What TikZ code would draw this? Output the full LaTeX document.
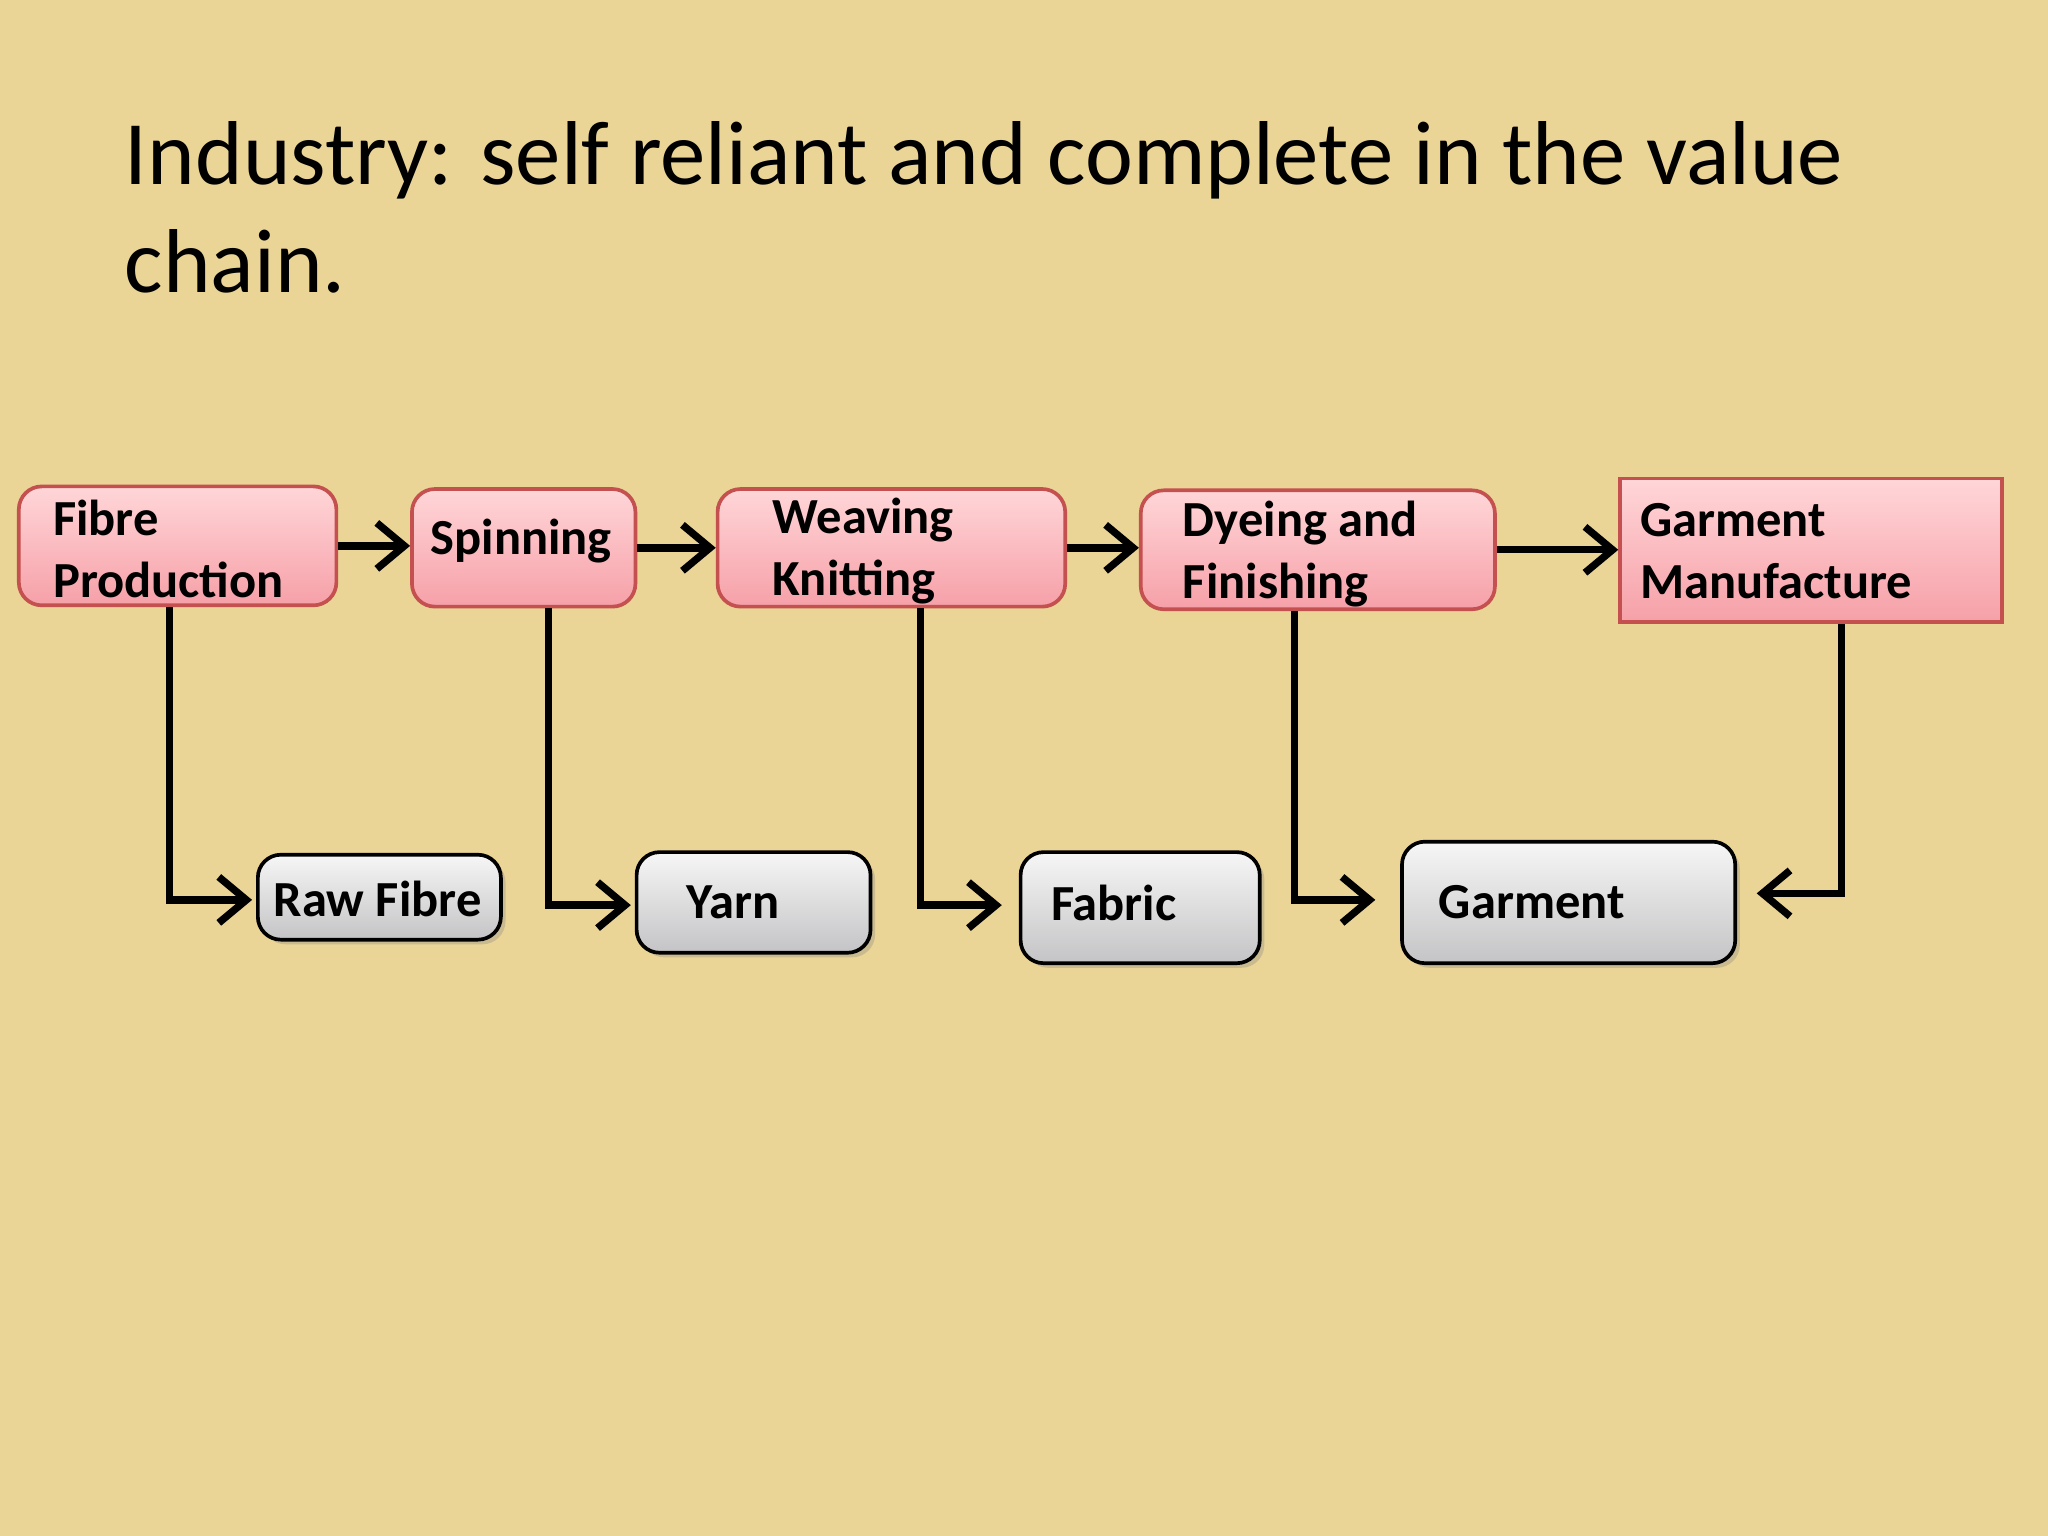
\documentclass[tikz,border=0pt]{standalone}
\usepackage{fontspec}
\setmainfont{Carlito}
\usetikzlibrary{arrows.meta,shadows}
\definecolor{bg}{RGB}{234,212,150}
\definecolor{pinkT}{RGB}{255,214,216}
\definecolor{pinkB}{RGB}{246,160,168}
\definecolor{pinkD}{RGB}{196,80,80}
\definecolor{grayT}{RGB}{246,246,246}
\definecolor{grayB}{RGB}{196,196,198}
\tikzset{
 pbox/.style={draw=pinkD,line width=0.8pt,rounded corners=5pt,top color=pinkT,bottom color=pinkB,anchor=north west,inner sep=0pt},
 gbox/.style={draw=black,line width=0.8pt,rounded corners=5pt,top color=grayT,bottom color=grayB,anchor=north west,inner sep=0pt,drop shadow={opacity=0.3,shadow xshift=1pt,shadow yshift=-1pt}},
 lbl/.style={font=\fontsize{11}{13.5}\selectfont\bfseries,align=left,anchor=west,inner sep=0pt},
 flow/.style={line width=1.6pt,-{Straight Barb[length=6pt,width=10pt,line width=1.6pt]}},
}
\begin{document}
\begin{tikzpicture}[x=0.01cm,y=-0.01cm]
\fill[bg] (0,0) rectangle (1568,1176);
\useasboundingbox (0,0) rectangle (1568,1176);
\node[anchor=north west,align=left,inner sep=0pt,font=\fontsize{19.75}{23.5}\selectfont] (title) at (95,92) {Industry: self reliant and complete in the value\\chain.};
\node[pbox,minimum width=2.43cm,minimum height=0.91cm] (fp) at (13,371) {};
\node[lbl] (tfp) at (40,420) {Fibre\\Production};
\node[pbox,minimum width=1.71cm,minimum height=0.90cm] (sp) at (314,373) {};
\node[lbl] (tsp) at (329,414) {Spinning};
\node[pbox,minimum width=2.66cm,minimum height=0.90cm] (wk) at (548,373) {};
\node[lbl] (twk) at (591,422) {Weaving\\Knitting};
\node[pbox,minimum width=2.71cm,minimum height=0.91cm] (df) at (872,374) {};
\node[lbl] (tdf) at (905,424) {Dyeing and\\Finishing};
\node[pbox,rounded corners=0pt,minimum width=2.92cm,minimum height=1.10cm] (gm) at (1239,365) {};
\node[lbl] (tgm) at (1255,422) {Garment\\Manufacture};
\node[gbox,minimum width=1.86cm,minimum height=0.65cm] (rf) at (196,653) {};
\node[lbl] (trf) at (209,688) {Raw Fibre};
\node[gbox,minimum width=1.79cm,minimum height=0.77cm] (yn) at (486,651) {};
\node[lbl] (tyn) at (525,691) {Yarn};
\node[gbox,minimum width=1.83cm,minimum height=0.85cm] (fb) at (780,651) {};
\node[lbl] (tfb) at (804,691) {Fabric};
\node[gbox,minimum width=2.55cm,minimum height=0.93cm] (gt) at (1072,643) {};
\node[lbl] (tgt) at (1101,691) {Garment};
\coordinate (v1) at (130,0); \coordinate (v2) at (420,0);
\coordinate (v3) at (705,0); \coordinate (v4) at (991,0);
\coordinate (v5) at (1410,0);
\coordinate (a1) at (193,689); \coordinate (a2) at (483,693);
\coordinate (a3) at (767,693); \coordinate (a4) at (1053,689);
\coordinate (a5) at (1345,684);
\draw[flow] (fp.east) -- (fp.east -| sp.west);
\draw[flow] (sp.east) -- (sp.east -| wk.west);
\draw[flow] (wk.east) -- (wk.east -| df.west);
\draw[flow] (df.east) -- (df.east -| gm.west);
\draw[flow] (fp.south -| v1) |- (a1);
\draw[flow] (sp.south -| v2) |- (a2);
\draw[flow] (wk.south -| v3) |- (a3);
\draw[flow] (df.south -| v4) |- (a4);
\draw[flow] (gm.south -| v5) |- (a5);
\end{tikzpicture}
\end{document}
